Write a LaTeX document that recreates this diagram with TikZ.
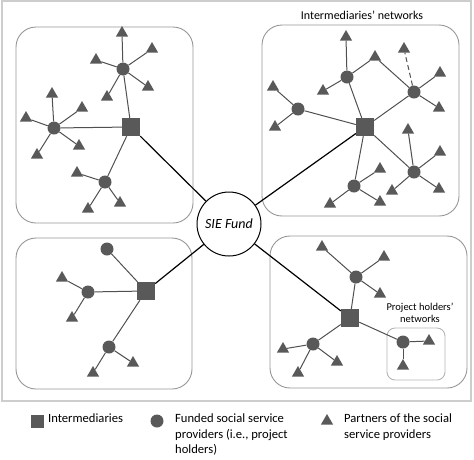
\documentclass[tikz,border=0pt]{standalone}
\usepackage{fontspec}
\setmainfont{Carlito}
\usetikzlibrary{shapes.geometric}
\definecolor{nodegray}{RGB}{89,89,89}
\definecolor{linegray}{RGB}{80,80,80}
\definecolor{boxgray}{RGB}{150,150,150}
\definecolor{framegray}{RGB}{205,205,205}
\begin{document}
\begin{tikzpicture}[x=1pt,y=-1pt,
  sq/.style={fill=nodegray,minimum size=18pt,inner sep=0pt},
  dot/.style={circle,fill=nodegray,minimum size=13pt,inner sep=0pt},
  tri/.style={regular polygon,regular polygon sides=3,fill=nodegray,minimum size=14pt,inner sep=0pt},
  link/.style={draw=linegray,line width=1pt},
  fundlink/.style={draw=black,line width=1.2pt},
  netbox/.style={draw=boxgray,line width=0.9pt,rounded corners=20pt},
  legtext/.style={anchor=north west,inner sep=0pt,align=left,font=\fontsize{12.6}{15.5}\selectfont}]
\useasboundingbox (0,0) rectangle (474,459);
\draw[framegray,line width=1.5pt] (2,1) rectangle (471,401);
% network boxes
\draw[netbox] (16,27) rectangle (193,223);
\draw[netbox] (262,25) rectangle (459,216);
\draw[netbox] (16,238) rectangle (192,389);
\draw[netbox] (270,236) rectangle (467,388);
\draw[draw=boxgray!70,line width=0.9pt,rounded corners=8pt] (387,328) rectangle (445,380);
\node[font=\fontsize{12}{14}\selectfont] (netlabel) at (362,15) {Intermediaries' networks};
\node[align=center,font=\fontsize{10.5}{12.5}\selectfont] (phlabel) at (420,313) {Project holders'\\networks};
% fund
\node[circle,draw,line width=1pt,minimum size=64pt,inner sep=0pt,fill=white,
  font=\fontsize{14}{16}\selectfont\itshape] (fund) at (229,224) {SIE Fund};
% top left
\node[sq] (tlI) at (131,127) {};
\node[dot] (tlA) at (123,69) {};
\node[dot] (tlB) at (54,128) {};
\node[dot] (tlC) at (105,182) {};
\draw[link] (tlI) -- (tlA) (tlI) -- (tlB) (tlI) -- (tlC);
\foreach \x/\y [count=\i] in {122/33,152/49,96/60,148/87,107/97}
  {\node[tri] (tla\i) at (\x,\y) {}; \draw[link] (tlA) -- (tla\i);}
\foreach \x/\y [count=\i] in {52/94,82/108,26/118,79/146,37/155}
  {\node[tri] (tlb\i) at (\x,\y) {}; \draw[link] (tlB) -- (tlb\i);}
\foreach \x/\y [count=\i] in {77/173,120/203,88/209}
  {\node[tri] (tlc\i) at (\x,\y) {}; \draw[link] (tlC) -- (tlc\i);}
% top right
\node[sq] (trI) at (365,127) {};
\node[dot] (trD) at (347,77) {};
\node[dot] (trE) at (298,109) {};
\node[dot] (trF) at (414,92) {};
\node[dot] (trG) at (414,172) {};
\node[dot] (trH) at (354,186) {};
\foreach \n in {D,E,F,G,H}
  \draw[link] (trI) -- (tr\n);
\foreach \x/\y [count=\i] in {346/37,323/91}
  {\node[tri] (trd\i) at (\x,\y) {}; \draw[link] (trD) -- (trd\i);}
\node[tri] (trdf) at (375,57) {};
\draw[link] (trD) -- (trdf) -- (trF);
\foreach \x/\y [count=\i] in {273/87,275/127}
  {\node[tri] (tre\i) at (\x,\y) {}; \draw[link] (trE) -- (tre\i);}
\node[tri] (trfd) at (404,49) {};
\draw[link,dashed,dash pattern=on 5pt off 3pt] (trF) -- (trfd);
\foreach \x/\y [count=\i] in {440/73,439/108}
  {\node[tri] (trf\i) at (\x,\y) {}; \draw[link] (trF) -- (trf\i);}
\foreach \x/\y [count=\i] in {408/130,440/152,392/191,439/189}
  {\node[tri] (trg\i) at (\x,\y) {}; \draw[link] (trG) -- (trg\i);}
\foreach \x/\y [count=\i] in {380/169,330/204,380/202}
  {\node[tri] (trh\i) at (\x,\y) {}; \draw[link] (trH) -- (trh\i);}
% bottom left
\node[sq] (blI) at (146,291) {};
\node[dot] (blA) at (107,249) {};
\node[dot] (blB) at (88,292) {};
\node[dot] (blC) at (109,347) {};
\draw[link] (blI) -- (blA) (blI) -- (blB) (blI) -- (blC);
\foreach \x/\y [count=\i] in {62/278,72/318}
  {\node[tri] (blb\i) at (\x,\y) {}; \draw[link] (blB) -- (blb\i);}
\foreach \x/\y [count=\i] in {133/363,93/373}
  {\node[tri] (blc\i) at (\x,\y) {}; \draw[link] (blC) -- (blc\i);}
% bottom right
\node[sq] (brI) at (350,318) {};
\node[dot] (brA) at (356,277) {};
\node[dot] (brB) at (313,344) {};
\node[dot] (brC) at (403,342) {};
\draw[link] (brI) -- (brA) (brI) -- (brB) (brI) -- (brC);
\foreach \x/\y [count=\i] in {322/247,384/257,380/294}
  {\node[tri] (bra\i) at (\x,\y) {}; \draw[link] (brA) -- (bra\i);}
\foreach \x/\y [count=\i] in {283/349,337/362,298/373}
  {\node[tri] (brb\i) at (\x,\y) {}; \draw[link] (brB) -- (brb\i);}
\foreach \x/\y [count=\i] in {429/341,403/366}
  {\node[tri] (brc\i) at (\x,\y) {}; \draw[link] (brC) -- (brc\i);}
% fund links
\foreach \q in {tl,tr,bl,br}
  \draw[fundlink] (fund) -- (\q I);
% legend
\node[sq,minimum size=13pt] (legsq) at (37,421) {};
\node[legtext] (legsqtext) at (48,414) {Intermediaries};
\node[dot] (legdot) at (157,421) {};
\node[legtext] (legdottext) at (175,414) {Funded social service\\providers (i.e., project\\holders)};
\node[tri] (legtri) at (327,421) {};
\node[legtext] (legtritext) at (344,414) {Partners of the social\\service providers};
\end{tikzpicture}
\end{document}
